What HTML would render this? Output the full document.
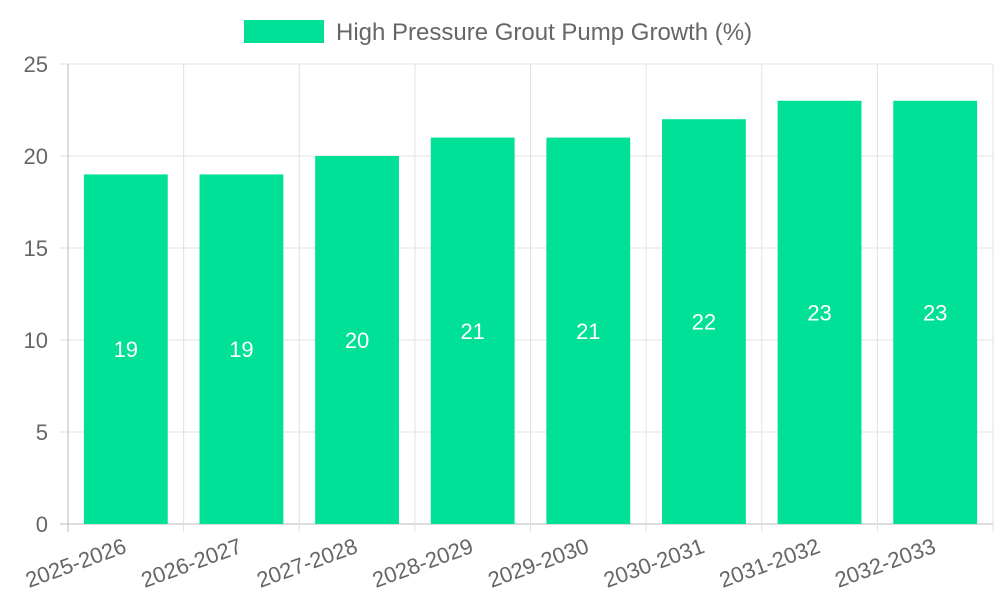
<!DOCTYPE html>
<html><head><meta charset="utf-8"><style>
body{margin:0;background:#fff;font-family:"Liberation Sans",sans-serif}
</style></head><body>
<svg id="chart" width="1000" height="600" xmlns="http://www.w3.org/2000/svg" font-family="Liberation Sans, sans-serif">
<g id="legend">
<rect x="244" y="20" width="80" height="23" fill="#00e096"/>
<text x="336" y="40" font-size="24" fill="#666">High Pressure Grout Pump Growth (%)</text>
</g>
<g id="grid"></g><g id="bars"></g><g id="axes"></g>
</svg>
<script>
const categories=["2025-2026","2026-2027","2027-2028","2028-2029","2029-2030","2030-2031","2031-2032","2032-2033"];
const values=[19,19,20,21,21,22,23,23];
const yTicks=[0,5,10,15,20,25];
const NS="http://www.w3.org/2000/svg";
const L=68,R=993,T=64,B=524,yMax=25;
const bw=(R-L)/categories.length;
const y=v=>B-(v/yMax)*(B-T);
const xC=i=>L+bw*(i+0.5);
function mk(tag,attrs,parent,txt){const e=document.createElementNS(NS,tag);for(const k in attrs)e.setAttribute(k,attrs[k]);if(txt!==undefined)e.textContent=txt;parent.appendChild(e);return e;}
const grid=document.getElementById('grid'),bars=document.getElementById('bars'),axes=document.getElementById('axes');
yTicks.forEach(t=>{
 const g=mk('line',{x1:L-8,x2:R,y1:y(t),y2:y(t),stroke:t===0?'#bbb':'#e0e0e0','stroke-width':1},grid);
 
 
 const tx=mk('text',{x:L-20,y:y(t)+8,'text-anchor':'end','font-size':22,fill:'#666'},axes,t);
 
 
});
for(let i=0;i<=categories.length;i++){
 const gx=L+bw*i;
 const g=mk('line',{x1:gx,x2:gx,y1:T,y2:B+8,stroke:i===0?'#bbb':'#e0e0e0','stroke-width':1},grid);
 
 
}
categories.forEach((c,i)=>{
 const w=bw*0.725;
 const r=mk('rect',{x:xC(i)-w/2,y:y(values[i]),width:w,height:B-y(values[i]),fill:'#00e096'},bars);
 
 
 const v=mk('text',{x:xC(i),y:(y(values[i])+B)/2+8,'text-anchor':'middle','font-size':22,fill:'#fff'},bars,values[i]);
 
 
 const lx=xC(i)+2,ly=B+28;
 const t=mk('text',{x:lx,y:ly,'text-anchor':'end','font-size':22,fill:'#666',transform:`rotate(-20 ${lx} ${ly})`},axes,c);
 
 
});
</script>
</body></html>
